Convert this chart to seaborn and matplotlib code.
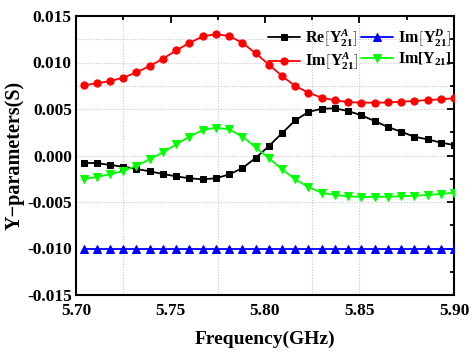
import numpy as np
import pandas as pd
import matplotlib
matplotlib.use("Agg")
import matplotlib.pyplot as plt
from matplotlib.ticker import MultipleLocator, FormatStrFormatter
import seaborn as sns

# ---- data ----
freq = [5.704 + 0.007 * i for i in range(29)]

re_y21a = [-0.00081, -0.00081, -0.00102, -0.00120, -0.00145, -0.00170, -0.00199, -0.00224,
           -0.00245, -0.00256, -0.00245, -0.00204, -0.00136, -0.00027, 0.00100, 0.00240,
           0.00378, 0.00468, 0.00503, 0.00507, 0.00478, 0.00432, 0.00371, 0.00306,
           0.00256, 0.00202, 0.00174, 0.00138, 0.00113]
im_y21a = [0.00755, 0.00776, 0.00800, 0.00837, 0.00894, 0.00962, 0.01040, 0.01130,
           0.01210, 0.01280, 0.01305, 0.01285, 0.01212, 0.01100, 0.00978, 0.00855,
           0.00747, 0.00675, 0.00622, 0.00593, 0.00575, 0.00568, 0.00568, 0.00570,
           0.00579, 0.00586, 0.00597, 0.00604, 0.00615]
im_y21d = [-0.0100] * 29
im_y21 = [-0.00253, -0.00231, -0.00202, -0.00167, -0.00110, -0.00041, 0.00034, 0.00120,
          0.00202, 0.00274, 0.00299, 0.00280, 0.00204, 0.00091, -0.00029, -0.00148,
          -0.00256, -0.00339, -0.00400, -0.00425, -0.00439, -0.00446, -0.00446, -0.00443,
          -0.00439, -0.00432, -0.00425, -0.00414, -0.00400]

labels = [r'Re$\left[\mathrm{Y}^{\mathit{A}}_{\mathit{21}}\right]$',
          r'Im$\left[\mathrm{Y}^{\mathit{A}}_{\mathit{21}}\right]$',
          r'Im$\left[\mathrm{Y}^{\mathit{D}}_{\mathit{21}}\right]$',
          r'Im$\left[\mathrm{Y}_{21}\right]$']
series = [re_y21a, im_y21a, im_y21d, im_y21]
colors = ['#000000', '#ff0000', '#0000ff', '#00ff00']
markers = ['s', 'o', '^', 'v']
msizes = [4.6, 5.2, 5.4, 5.4]

x_ticks = [5.70, 5.75, 5.80, 5.85, 5.90]
y_ticks = [-0.015, -0.010, -0.005, 0.000, 0.005, 0.010, 0.015]
grid_x = [5.725, 5.775, 5.825, 5.85]
grid_y = [0.0125, 0.010, 0.0075, 0.005, 0.0, -0.005]

# ---- style ----
sns.set_theme(style="white")
plt.rcParams['font.family'] = ['Liberation Serif', 'DejaVu Serif']
plt.rcParams['font.weight'] = 'bold'
plt.rcParams['text.color'] = 'black'
plt.rcParams['axes.labelcolor'] = 'black'
plt.rcParams['mathtext.fontset'] = 'custom'
plt.rcParams['mathtext.rm'] = 'Liberation Serif:bold'
plt.rcParams['mathtext.it'] = 'Liberation Serif:italic:bold'
plt.rcParams['mathtext.bf'] = 'Liberation Serif:bold'

fig = plt.figure(figsize=(4.74, 3.52), dpi=100)
ax = fig.add_axes([76 / 474, 1 - 295 / 352, (454 - 76) / 474, (295 - 16) / 352])

for gx in grid_x:
    ax.axvline(gx, color='#c8c8c8', lw=0.8, ls=(0, (1, 1.5)), zorder=0)
for gy in grid_y:
    ax.axhline(gy, color='#c8c8c8', lw=0.8, ls=(0, (1, 1.5)), zorder=0)

rows = []
for lab, vals in zip(labels, series):
    for f, v in zip(freq, vals):
        rows.append({'Frequency': f, 'Y': v, 'series': lab})
df = pd.DataFrame(rows)

for lab, c, m, ms in zip(labels, colors, markers, msizes):
    sub = df[df['series'] == lab]
    sns.lineplot(data=sub, x='Frequency', y='Y', ax=ax, color=c, marker=m,
                 markersize=ms, markeredgecolor=c, lw=1.3,
                 label=lab, zorder=3)

ax.set_xlim(5.70, 5.90)
ax.set_ylim(-0.015, 0.015)
ax.set_xticks(x_ticks)
ax.set_yticks(y_ticks)
ax.xaxis.set_minor_locator(MultipleLocator(0.025))
ax.yaxis.set_minor_locator(MultipleLocator(0.0025))
ax.xaxis.set_major_formatter(FormatStrFormatter('%.2f'))
ax.yaxis.set_major_formatter(FormatStrFormatter('%.3f'))
ax.tick_params(which='both', direction='in', top=True, right=True, width=1.3,
               labelsize=12.5, colors='black')
ax.tick_params(which='major', length=5)
ax.tick_params(which='minor', length=3)
ax.tick_params(axis='x', which='major', pad=6)
ax.tick_params(axis='y', which='major', pad=3)
for lab in ax.get_xticklabels() + ax.get_yticklabels():
    lab.set_fontweight('bold')
for sp in ax.spines.values():
    sp.set_linewidth(1.5)
    sp.set_color('black')

ax.set_xlabel('Frequency(GHz)', fontsize=14, fontweight='bold', labelpad=8, color='black')
ax.set_ylabel('Y\u2212parameters(S)', fontsize=14.5, fontweight='bold', labelpad=2, color='black')

h, l = ax.get_legend_handles_labels()
leg = ax.legend(h, l, ncol=2, frameon=False,
                loc='upper right', bbox_to_anchor=(1.025, 1.0), fontsize=11.5,
                handlelength=2.0, handletextpad=0.35, columnspacing=0.15,
                labelspacing=0.15, borderaxespad=0.3)
for t in leg.get_texts():
    t.set_fontweight('bold')
    t.set_color('black')

fig.savefig('out.png', dpi=100)
